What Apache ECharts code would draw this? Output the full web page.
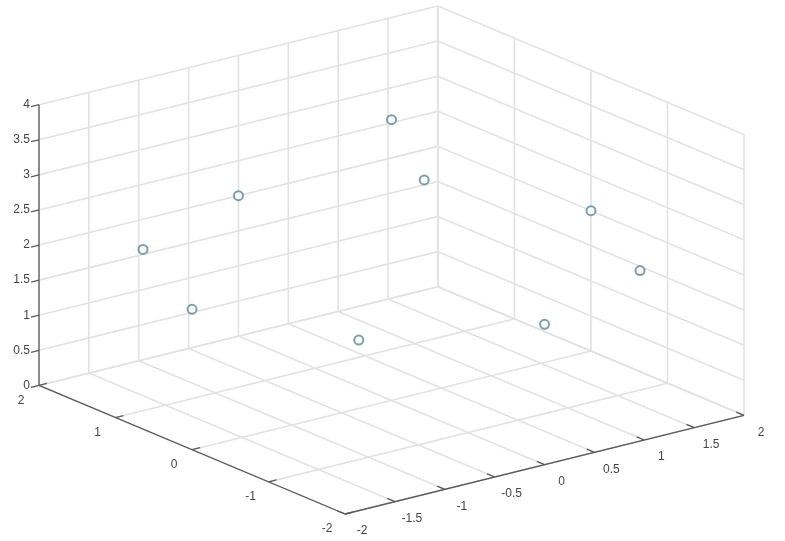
<!DOCTYPE html>
<html lang="en">
  <head>
    <meta charset="UTF-8" />
    <title>scatter3</title>
    <style>
      html,
      body {
        margin: 0;
        background: #fff;
      }
      #main {
        width: 785px;
        height: 541px;
      }
    </style>
  </head>
  <body>
    <div id="main"></div>
    <script src="https://cdn.jsdelivr.net/npm/echarts@6/dist/echarts.min.js"></script>
    <script>
      // points (x, y, z): a ring of 8 at z = 2 plus one in the middle at z = 4
      const xData = [-1.41, -2, 0, -1.41, 0, 1.41, 0, 2, 1.41];
      const yData = [1.41, 0, 2, -1.41, 0, 1.41, -2, 0, -1.41];
      const zData = [2, 2, 2, 2, 4, 2, 2, 2, 2];

      const xTicks = [-2, -1.5, -1, -0.5, 0, 0.5, 1, 1.5, 2];
      const yTicks = [-2, -1, 0, 1, 2];
      const zTicks = [0, 0.5, 1, 1.5, 2, 2.5, 3, 3.5, 4];

      const xRange = [-2, 2];
      const yRange = [-2, 2];
      const zRange = [0, 4];

      // default matlab view
      const az = (-37.5 * Math.PI) / 180;
      const el = (30 * Math.PI) / 180;

      const project = (x, y, z) => {
        const nx = (x - xRange[0]) / (xRange[1] - xRange[0]);
        const ny = (y - yRange[0]) / (yRange[1] - yRange[0]);
        const nz = (z - zRange[0]) / (zRange[1] - zRange[0]);
        const r = Math.cos(az) * nx + Math.sin(az) * ny;
        const u =
          -Math.sin(el) * Math.sin(az) * nx +
          Math.sin(el) * Math.cos(az) * ny +
          Math.cos(el) * nz;
        return [r, u];
      };

      const [x0, x1] = xRange;
      const [y0, y1] = yRange;
      const [z0, z1] = zRange;

      // grid segments on the floor and the two back walls
      const gridSegs = [];
      xTicks.forEach((t) => {
        gridSegs.push([t, y0, z0, t, y1, z0]);
        gridSegs.push([t, y1, z0, t, y1, z1]);
      });
      yTicks.forEach((t) => {
        gridSegs.push([x0, t, z0, x1, t, z0]);
        gridSegs.push([x1, t, z0, x1, t, z1]);
      });
      zTicks.forEach((t) => {
        gridSegs.push([x0, y1, t, x1, y1, t]);
        gridSegs.push([x1, y0, t, x1, y1, t]);
      });

      // axis lines + tick marks
      const tx = 0.08 * (x1 - x0) / 4;
      const ty = 0.1 * (y1 - y0) / 4;
      const axisSegs = [
        [x0, y1, z0, x0, y1, z1],
        [x0, y0, z0, x0, y1, z0],
        [x0, y0, z0, x1, y0, z0],
      ];
      zTicks.forEach((t) => axisSegs.push([x0, y1, t, x0 - tx, y1, t]));
      yTicks.forEach((t) => axisSegs.push([x0, t, z0, x0 + tx, t, z0]));
      xTicks.forEach((t) => axisSegs.push([t, y0, z0, t, y0 + ty, z0]));

      const corners = [];
      [x0, x1].forEach((x) =>
        [y0, y1].forEach((y) => [z0, z1].forEach((z) => corners.push(project(x, y, z))))
      );
      const rMin = Math.min(...corners.map((c) => c[0]));
      const rMax = Math.max(...corners.map((c) => c[0]));
      const uMin = Math.min(...corners.map((c) => c[1]));
      const uMax = Math.max(...corners.map((c) => c[1]));

      const segRenderer = (color, width) => (params, api) => {
        const a = api.coord(project(api.value(0), api.value(1), api.value(2)));
        const b = api.coord(project(api.value(3), api.value(4), api.value(5)));
        return {
          type: "line",
          shape: { x1: a[0], y1: a[1], x2: b[0], y2: b[1] },
          style: { stroke: color, lineWidth: width },
        };
      };

      const font = '12px "Liberation Sans", Arial, sans-serif';
      const labelRenderer = (toPoint, dx, dy, align) => (params, api) => {
        const v = api.value(0);
        const p = api.coord(toPoint(v));
        return {
          type: "text",
          x: p[0] + dx,
          y: p[1] + dy,
          style: {
            text: String(v),
            align: align,
            verticalAlign: "middle",
            fill: "#454545",
            font: font,
          },
        };
      };

      const chart = echarts.init(document.getElementById("main"));
      const option = {
        animation: false,
        grid: { left: 39, right: 41, top: 6, bottom: 27 },
        xAxis: { type: "value", min: rMin, max: rMax, show: false },
        yAxis: { type: "value", min: uMin, max: uMax, show: false },
        series: [
          {
            type: "custom",
            silent: true,
            data: gridSegs,
            renderItem: segRenderer("#e2e2e2", 1.6),
          },
          {
            type: "custom",
            silent: true,
            data: axisSegs,
            renderItem: segRenderer("#5a5a5a", 1.3),
          },
          {
            type: "custom",
            silent: true,
            data: zTicks.map((t) => [t]),
            renderItem: labelRenderer((t) => project(x0, y1, t), -9, 0, "right"),
          },
          {
            type: "custom",
            silent: true,
            data: yTicks.map((t) => [t]),
            renderItem: labelRenderer((t) => project(x0, t, z0), -18, 15, "center"),
          },
          {
            type: "custom",
            silent: true,
            data: xTicks.map((t) => [t]),
            renderItem: labelRenderer((t) => project(t, y0, z0), 17, 17, "center"),
          },
          {
            type: "scatter",
            symbol: "emptyCircle",
            symbolSize: 9,
            itemStyle: { color: "#5b8799", borderWidth: 1.6 },
            data: xData.map((x, i) => project(x, yData[i], zData[i])),
          },
        ],
      };
      chart.setOption(option);
    </script>
  </body>
</html>
